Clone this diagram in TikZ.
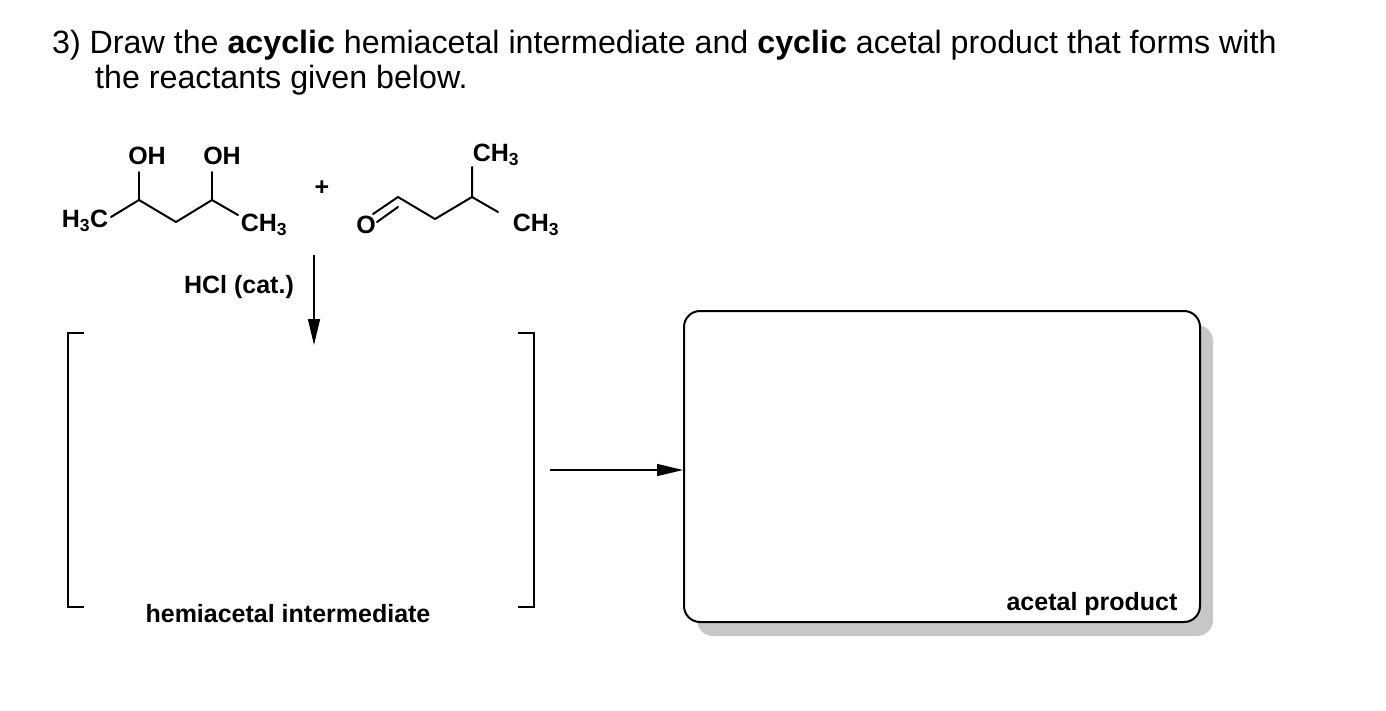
\documentclass[tikz,border=0pt]{standalone}
\usepackage{fontspec}
\setmainfont{Liberation Sans}
\usetikzlibrary{arrows.meta}
\begin{document}
\begin{tikzpicture}[x=1pt,y=-1pt,
  bond/.style={line width=2pt,line cap=round},
  lbl/.style={font=\fontsize{25}{26}\selectfont\bfseries,inner sep=0pt},
  ttl/.style={font=\fontsize{32.2}{34}\selectfont,anchor=west,inner sep=0pt},
  brk/.style={line width=2pt},
  rxn/.style={line width=1.4pt,-{Triangle[length=26pt,width=12pt]}}]
\useasboundingbox (0,0) rectangle (1386,710);
\node[ttl] (t1) at (52,45) {3) Draw the \textbf{acyclic} hemiacetal intermediate and \textbf{cyclic} acetal product that forms with};
\node[ttl] (t2) at (95,80) {the reactants given below.};
% diol
\node[lbl] (h3c) at (85,221) {H$_\mathbf{3}$C};
\node[lbl] (oh1) at (147,156) {OH};
\node[lbl] (oh2) at (222,156) {OH};
\node[lbl] (ch3a) at (264,225) {CH$_\mathbf{3}$};
\coordinate (a0) at (111,217);
\coordinate (a1) at (139,200);
\coordinate (a2) at (176,222);
\coordinate (a3) at (212,200);
\coordinate (a4) at (238,215);
\coordinate (o1) at (139,172);
\coordinate (o2) at (212,172);
\draw[bond] (a0)--(a1)--(a2)--(a3)--(a4);
\draw[bond] (a1)--(o1);
\draw[bond] (a3)--(o2);
\node[lbl] (plus) at (322,188) {+};
% aldehyde
\node[lbl] (oa) at (366,225) {O};
\node[lbl] (ch3b) at (496,155) {CH$_\mathbf{3}$};
\node[lbl] (ch3c) at (536,225) {CH$_\mathbf{3}$};
\coordinate (b0) at (373,214);
\coordinate (b1) at (398,197);
\coordinate (b2) at (435,219);
\coordinate (b3) at (472,197);
\coordinate (b4) at (472,167);
\coordinate (b5) at (498,212);
\draw[bond] (b0)--(b1)--(b2)--(b3)--(b4);
\draw[bond] (b3)--(b5);
\draw[bond] (377,222)--(398,207);
% reaction arrow
\coordinate (r0) at (314,255);
\coordinate (r1) at (314,345);
\draw[rxn] (r0)--(r1);
\node[lbl] (hcl) at (239,287) {HCl (cat.)};
% brackets
\draw[brk] (84,333)--(68,333)--(68,607)--(84,607);
\draw[brk] (518,333)--(534,333)--(534,607)--(518,607);
\node[lbl] (hemi) at (288,614) {hemiacetal intermediate};
% product box
\fill[black!22,rounded corners=16pt] (697,325) rectangle (1213,636);
\node[draw,line width=2pt,fill=white,rounded corners=16pt,minimum width=516pt,minimum height=311pt,inner sep=0pt] (box) at (942,466.5) {};
\node[lbl] (acet) at (1092,604) {acetal product};
\coordinate (p0) at (550,470);
\draw[rxn] (p0)--(box.west |- p0);
\end{tikzpicture}
\end{document}
